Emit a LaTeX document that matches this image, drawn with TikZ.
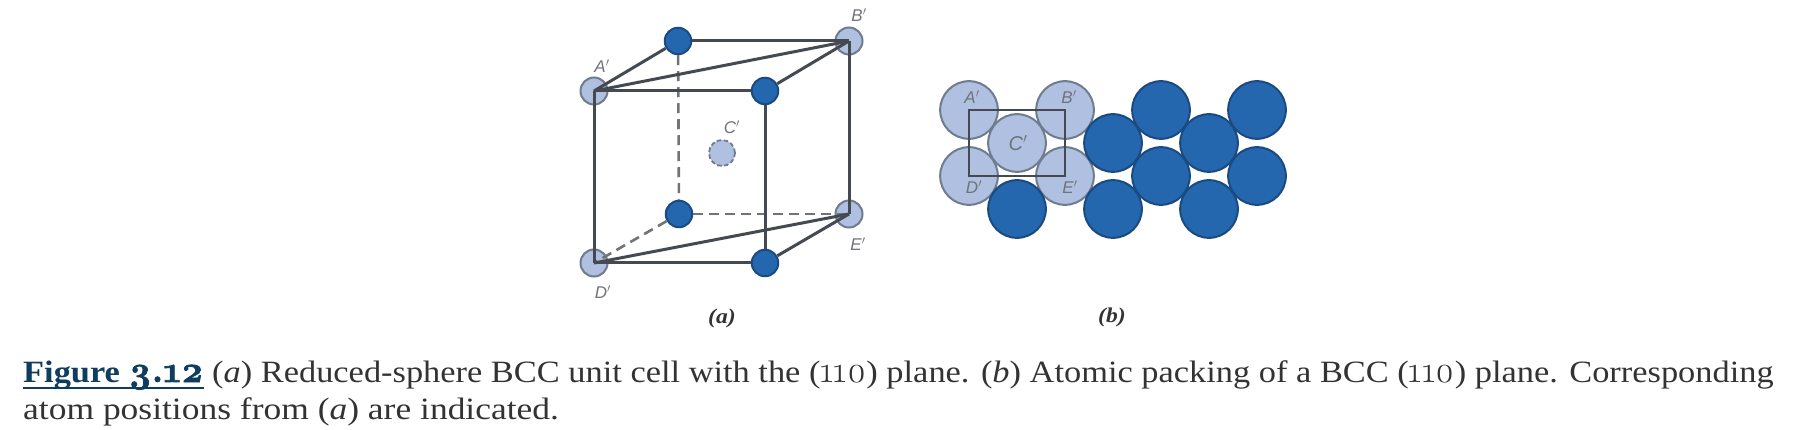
\documentclass[tikz,border=0pt]{standalone}
\usepackage{fontspec}
\setmainfont{Liberation Serif}[FakeStretch=1.125]
\newfontfamily\lblfont{Liberation Sans}
\newfontfamily\numfont{Latin Modern Roman}[Numbers=OldStyle,Scale=1.2]
\newfontfamily\numboldfont{Latin Modern Roman}[Numbers=OldStyle,Scale=1.2,FakeBold=2]
\definecolor{darkatom}{HTML}{2467AE}
\definecolor{lightatom}{HTML}{AFC0E0}
\definecolor{darkedge}{HTML}{1B4A80}
\definecolor{lightedge}{HTML}{6F7B8E}
\definecolor{cellline}{HTML}{454A52}
\definecolor{lblgray}{HTML}{707478}
\definecolor{captxt}{HTML}{333333}
\definecolor{figlink}{HTML}{0F3D5E}
\tikzset{
 atomdark/.style={circle,draw=darkedge,fill=darkatom,line width=2pt,inner sep=0pt,minimum size=#1},
 atomlight/.style={circle,draw=lightedge,fill=lightatom,line width=2pt,inner sep=0pt,minimum size=#1},
 cellsolid/.style={draw=cellline,line width=3pt},
 celldash/.style={draw=lblgray,line width=2.6pt,dash pattern=on 10pt off 6pt},
 lbl/.style={font=\lblfont\itshape\fontsize{17}{17}\selectfont,text=lblgray,inner sep=0pt},
 panel/.style={font=\bfseries\itshape\fontsize{21}{21}\selectfont,text=black!80,inner sep=0pt},
 caption/.style={font=\fontsize{31}{33}\selectfont,text=captxt,inner sep=0pt,anchor=base west},
}
\begin{document}
\begin{tikzpicture}[x=1pt,y=-1pt]
\useasboundingbox (0,0) rectangle (1811,430);
% panel (a)
\node[atomdark=26.5pt] (bt) at (678,41) {};
\node[atomdark=26.5pt] (ft) at (765,91) {};
\node[atomdark=26.5pt] (bb) at (679,214) {};
\node[atomdark=26.5pt] (fb) at (765,263) {};
\node[atomlight=27pt] (A) at (594,91) {};
\node[atomlight=27pt] (B) at (849,41) {};
\node[atomlight=27pt] (D) at (594,263) {};
\node[atomlight=27pt] (E) at (849,214) {};
\node[circle,draw=lightedge,fill=lightatom,line width=1.8pt,dash pattern=on 4.5pt off 2.5pt,inner sep=0pt,minimum size=26pt] (C) at (722,153) {};
\draw[celldash] (bt) -- (bb);
\draw[celldash] (bb) -- (E.center);
\draw[celldash] (bb) -- (D.center);
\draw[cellsolid] (A.center) -- (bt);
\draw[cellsolid] (bt) -- (B.center);
\draw[cellsolid] (A.center) -- (B.center);
\draw[cellsolid] (A.center) -- (ft);
\draw[cellsolid] (ft) -- (B.center);
\draw[cellsolid] (A.center) -- (D.center);
\draw[cellsolid] (B.center) -- (E.center);
\draw[cellsolid] (ft) -- (fb);
\draw[cellsolid] (D.center) -- (fb);
\draw[cellsolid] (D.center) -- (E.center);
\draw[cellsolid] (fb) -- (E.center);
\node[lbl] (lA) at (602,66) {A$'$};
\node[lbl] (lB) at (859,15) {B$'$};
\node[lbl] (lC) at (732,127) {C$'$};
\node[lbl] (lD) at (603,292) {D$'$};
\node[lbl] (lE) at (858,244) {E$'$};
\node[panel] (capa) at (722,318) {(a)};
% panel (b)
\node[atomlight=57.7pt] (pA) at (969,110) {};
\node[atomlight=57.7pt] (pB) at (1065,110) {};
\node[atomlight=57.7pt] (pD) at (969,176) {};
\node[atomlight=57.7pt] (pE) at (1065,176) {};
\node[atomlight=57.7pt] (pC) at (1017,143) {};
\node[atomdark=57.7pt] (d1) at (1017,209) {};
\node[atomdark=57.7pt] (d2) at (1113,143) {};
\node[atomdark=57.7pt] (d3) at (1113,209) {};
\node[atomdark=57.7pt] (d4) at (1161,110) {};
\node[atomdark=57.7pt] (d5) at (1161,176) {};
\node[atomdark=57.7pt] (d6) at (1209,143) {};
\node[atomdark=57.7pt] (d7) at (1209,209) {};
\node[atomdark=57.7pt] (d8) at (1257,110) {};
\node[atomdark=57.7pt] (d9) at (1257,176) {};
\draw[draw=cellline,line width=2.8pt] (pA.center) rectangle (pE.center);
\node[lbl] (qA) at (972,97) {A$'$};
\node[lbl] (qB) at (1069,97) {B$'$};
\node[lbl,font=\lblfont\itshape\fontsize{20}{20}\selectfont] (qC) at (1018,143) {C$'$};
\node[lbl] (qD) at (974,187) {D$'$};
\node[lbl] (qE) at (1070,187) {E$'$};
\node[panel] (capb) at (1112,317) {(b)};
% caption
\node[caption] (c1) at (23,382) {\scalebox{0.986}[1]{{\bfseries\color{figlink}Figure {\numboldfont 3.12}} (\textit{a}) Reduced-sphere BCC unit cell with the ({\numfont 110}) plane. (\textit{b}) Atomic packing of a BCC ({\numfont 110}) plane. Corresponding}};
\node[caption] (c2) at (23,419) {\scalebox{1.017}[1]{atom positions from (\textit{a}) are indicated.}};
\draw[figlink,line width=2.4pt] (23,388) -- (204,388);
\end{tikzpicture}
\end{document}
